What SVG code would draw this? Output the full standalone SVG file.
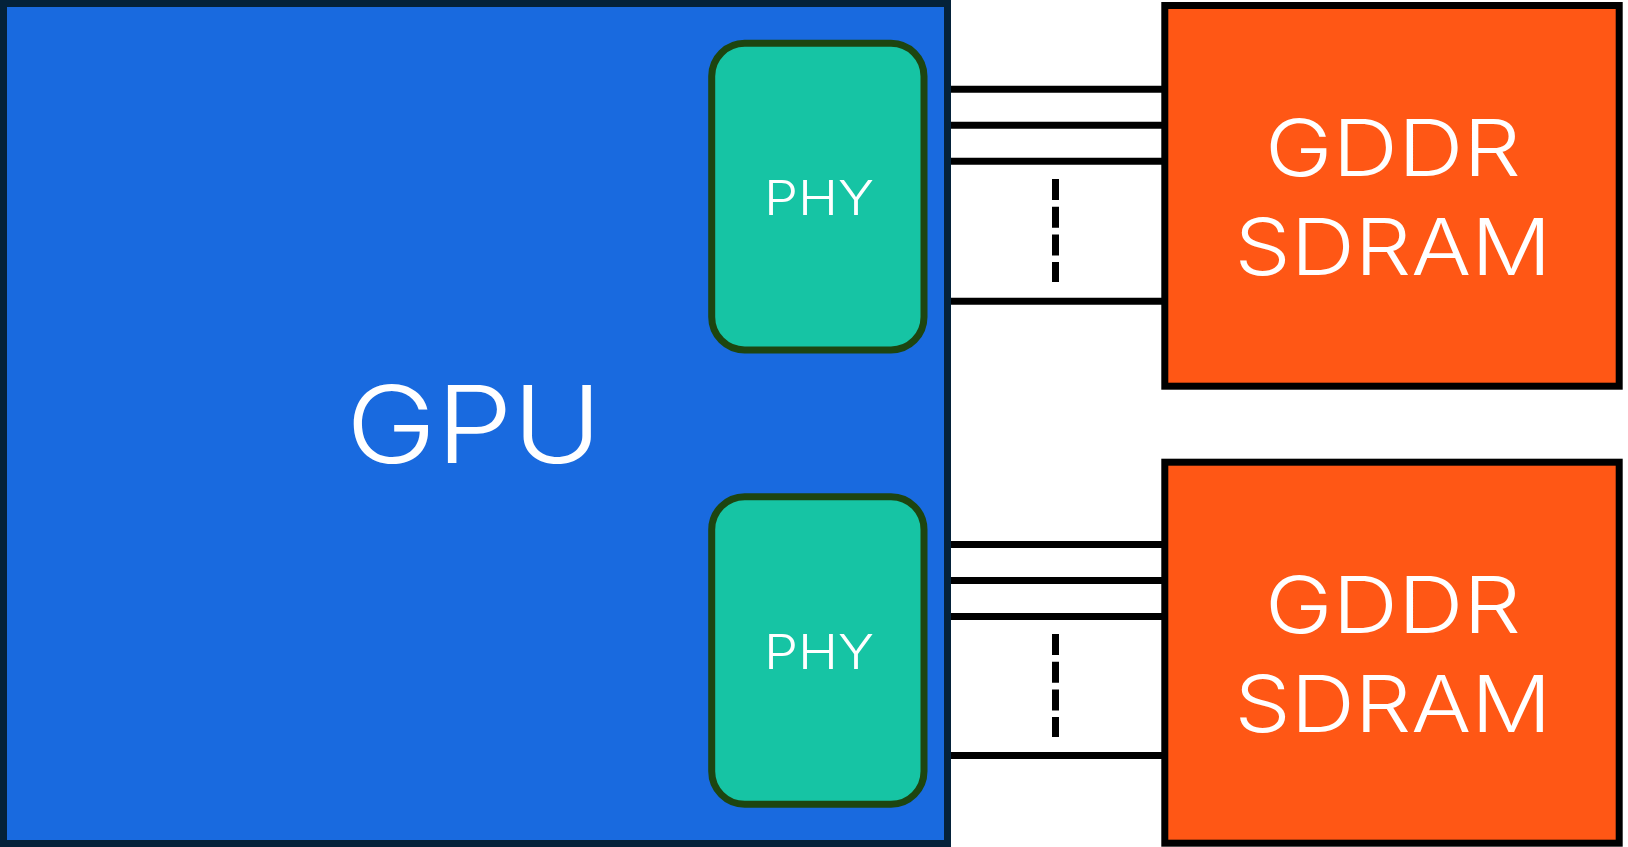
<svg xmlns="http://www.w3.org/2000/svg" width="1628" height="847" viewBox="0 0 1628 847">
<style>
.lbl{font-family:"Inter","Open Sans","Liberation Sans",sans-serif;font-weight:300;fill:#ffffff;text-anchor:middle}
.gpu{fill:#196ADF;stroke:#04223A;stroke-width:7}
.phy{fill:#16C4A4;stroke:#1D4510;stroke-width:7}
.mem{fill:#FF5715;stroke:#000000;stroke-width:7}
.bus{stroke:#000000;stroke-width:7;fill:none}
.dash{stroke:#000000;stroke-width:7;fill:none;stroke-dasharray:21 6.7}
</style>
<rect width="1628" height="847" fill="#ffffff"/>
<g id="connectors">
<line class="bus" x1="947" y1="89.3" x2="1165" y2="89.3"/>
<line class="bus" x1="947" y1="125.3" x2="1165" y2="125.3"/>
<line class="bus" x1="947" y1="161.3" x2="1165" y2="161.3"/>
<line class="bus" x1="947" y1="301.3" x2="1165" y2="301.3"/>
<line class="dash" x1="1055.5" y1="179" x2="1055.5" y2="282"/>
<line class="bus" x1="947" y1="544.5" x2="1165" y2="544.5"/>
<line class="bus" x1="947" y1="580.5" x2="1165" y2="580.5"/>
<line class="bus" x1="947" y1="616.5" x2="1165" y2="616.5"/>
<line class="bus" x1="947" y1="755.5" x2="1165" y2="755.5"/>
<line class="dash" x1="1055.5" y1="634" x2="1055.5" y2="737"/>
</g>
<g id="gpu">
<rect class="gpu" x="3.5" y="3.5" width="944" height="840"/>
<text class="lbl" x="474" y="462.7" font-size="107" textLength="256" lengthAdjust="spacingAndGlyphs">GPU</text>
</g>
<g id="phy1">
<rect class="phy" x="711.7" y="43.3" width="212.3" height="306.7" rx="33" ry="33"/>
<text class="lbl" x="819" y="215" font-size="48" textLength="110" lengthAdjust="spacingAndGlyphs">PHY</text>
</g>
<g id="phy2">
<rect class="phy" x="711.7" y="496.7" width="212.3" height="307.6" rx="33" ry="33"/>
<text class="lbl" x="819" y="669" font-size="48" textLength="110" lengthAdjust="spacingAndGlyphs">PHY</text>
</g>
<g id="gddr1">
<rect class="mem" x="1164.8" y="5.5" width="454.4" height="380.7"/>
<text class="lbl" x="1393" y="176" font-size="79" textLength="256" lengthAdjust="spacingAndGlyphs">GDDR</text>
<text class="lbl" x="1393" y="275" font-size="79" textLength="317" lengthAdjust="spacingAndGlyphs">SDRAM</text>
</g>
<g id="gddr2">
<rect class="mem" x="1164.8" y="462.2" width="454.4" height="381"/>
<text class="lbl" x="1393" y="632.7" font-size="79" textLength="256" lengthAdjust="spacingAndGlyphs">GDDR</text>
<text class="lbl" x="1393" y="731.7" font-size="79" textLength="317" lengthAdjust="spacingAndGlyphs">SDRAM</text>
</g>
</svg>
